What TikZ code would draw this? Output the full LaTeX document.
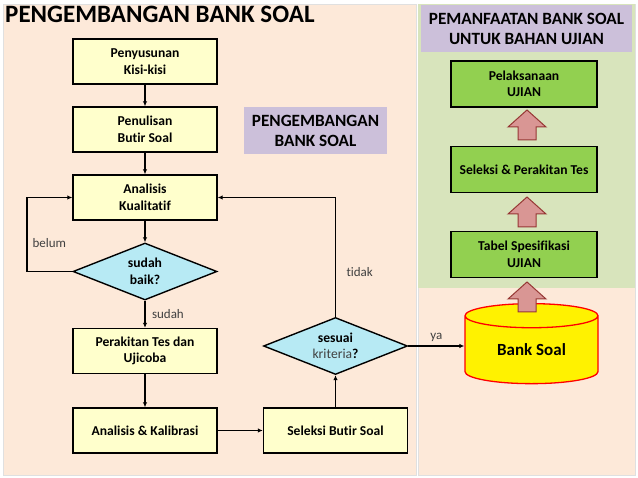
\documentclass[tikz,border=0pt]{standalone}
\usepackage{fontspec}
\setmainfont{Carlito}[Ligatures=NoCommon]
\usetikzlibrary{positioning}
\usetikzlibrary{shapes.geometric}
\usetikzlibrary{arrows.meta}
\definecolor{peach}{RGB}{253,233,217}
\definecolor{greenpanel}{RGB}{216,228,188}
\definecolor{lilac}{RGB}{204,192,218}
\definecolor{boxyellow}{RGB}{255,255,204}
\definecolor{diacyan}{RGB}{183,234,244}
\definecolor{boxgreen}{RGB}{146,208,80}
\definecolor{arrpink}{RGB}{217,150,148}
\definecolor{arrred}{RGB}{150,55,52}
\definecolor{labgray}{RGB}{64,64,64}
\tikzset{stepbox/.style = {draw, line width=1.4pt, fill=boxyellow,
    minimum width=144pt, minimum height=45pt, align=center,
    font=\fontsize{13.6}{16.5}\selectfont\bfseries}}
\tikzset{usebox/.style = {stepbox, fill=boxgreen, minimum width=146pt,
    minimum height=46pt}}
\tikzset{decide/.style = {draw, line width=1.4pt, fill=diacyan, diamond,
    aspect=2.6, minimum width=144pt, minimum height=57pt, inner sep=0pt,
    align=center, font=\fontsize{13.6}{16.5}\selectfont\bfseries}}
\tikzset{flow/.style = {line width=1.4pt, -{Latex[length=5pt,width=4.5pt]}}}
\tikzset{edgelab/.style = {text=labgray, font=\fontsize{13}{15}\selectfont}}
\tikzset{upblock/.style = {draw=arrred, fill=arrpink, line width=1pt}}
\tikzset{headbox/.style = {fill=lilac, minimum height=47pt, inner sep=0pt,
    align=center, font=\fontsize{17.2}{20}\selectfont\bfseries}}

\begin{document}
\begin{tikzpicture}[x=1pt,y=-1pt]
  % panels
  \fill[white] (0,0) rectangle (638,478);
  \fill[peach, draw=black!12] (3,4) rectangle (416,475);
  \fill[peach, draw=black!12] (418,4) rectangle (635,475);
  \fill[greenpanel] (418,4) rectangle (635,288);
  \node[headbox, minimum width=211pt] (head2) at (526.5,28.5)
        {PEMANFAATAN BANK SOAL\\UNTUK BAHAN UJIAN};
  \node[anchor=west, font=\fontsize{25}{28}\selectfont\bfseries, inner sep=0pt]
        (title) at (5,14) {PENGEMBANGAN BANK SOAL};
  \node[headbox, minimum width=143pt] (head1) at (315.5,130.5)
        {PENGEMBANGAN\\BANK SOAL};

  % left flow
  \node[stepbox] (kisi) at (145,61.5) {Penyusunan\\Kisi-kisi};
  \node[stepbox] (tulis) at (145,129.5) {Penulisan\\Butir Soal};
  \node[stepbox] (kual) at (145,197.5) {Analisis\\Kualitatif};
  \node[decide] (baik) at (145,271.5) {sudah\\baik?};
  \node[stepbox] (rakit) at (145,351) {Perakitan Tes dan\\Ujicoba};
  \node[stepbox] (kalib) at (145,430.5) {Analisis \& Kalibrasi};
  \node[stepbox] (seleksi) at (335.5,430.5) {Seleksi Butir Soal};
  \node[decide] (kriteria) at (335.5,346) {sesuai\\{\mdseries\color{labgray}kriteria}?};
  \coordinate (lp) at (27,271.5);
  \coordinate (rp) at (335.5,197.5);

  \draw[flow] (kisi) -- (tulis);
  \draw[flow] (tulis) -- (kual);
  \draw[flow] (kual) -- (baik);
  \draw[flow] (baik) -- node[edgelab, right=3pt] {sudah} (rakit);
  \draw[flow] (rakit) -- (kalib);
  \draw[flow] (kalib) -- (seleksi);
  \draw[flow] (seleksi) -- (kriteria);
  \draw[flow] (baik.west) -- (lp) |- (kual.west);
  \draw[flow] (kriteria.north) -- (rp) -- (kual.east);
  \node[edgelab, anchor=west] (belum) at (29,243) {belum};
  \node[edgelab, anchor=west] (tidak) at (343,272) {tidak};

  % right column
  \node[usebox] (ujian) at (524,84) {Pelaksanaan\\UJIAN};
  \node[usebox] (rakittes) at (524,169.5) {Seleksi \& Perakitan Tes};
  \node[usebox] (spek) at (524,254.5) {Tabel Spesifikasi\\UJIAN};
  \node[cylinder, shape border rotate=90, draw=red, line width=1.3pt,
        fill=yellow, minimum width=133pt, minimum height=80pt,
        aspect=0.35, inner sep=0pt, font=\fontsize{17}{20}\selectfont\bfseries]
        (bank) at (531.5,350) {\raisebox{-6pt}{Bank Soal}};
  \draw[flow] (kriteria.east) -- node[edgelab, above] {ya} (bank.west |- kriteria.east);

  % block arrows
  \foreach \yt in {110,197,282}
    \draw[upblock] (527,\yt) -- (546,\yt+17) -- (536,\yt+17) -- (536,\yt+30)
      -- (518,\yt+30) -- (518,\yt+17) -- (508,\yt+17) -- cycle;
\end{tikzpicture}
\end{document}
